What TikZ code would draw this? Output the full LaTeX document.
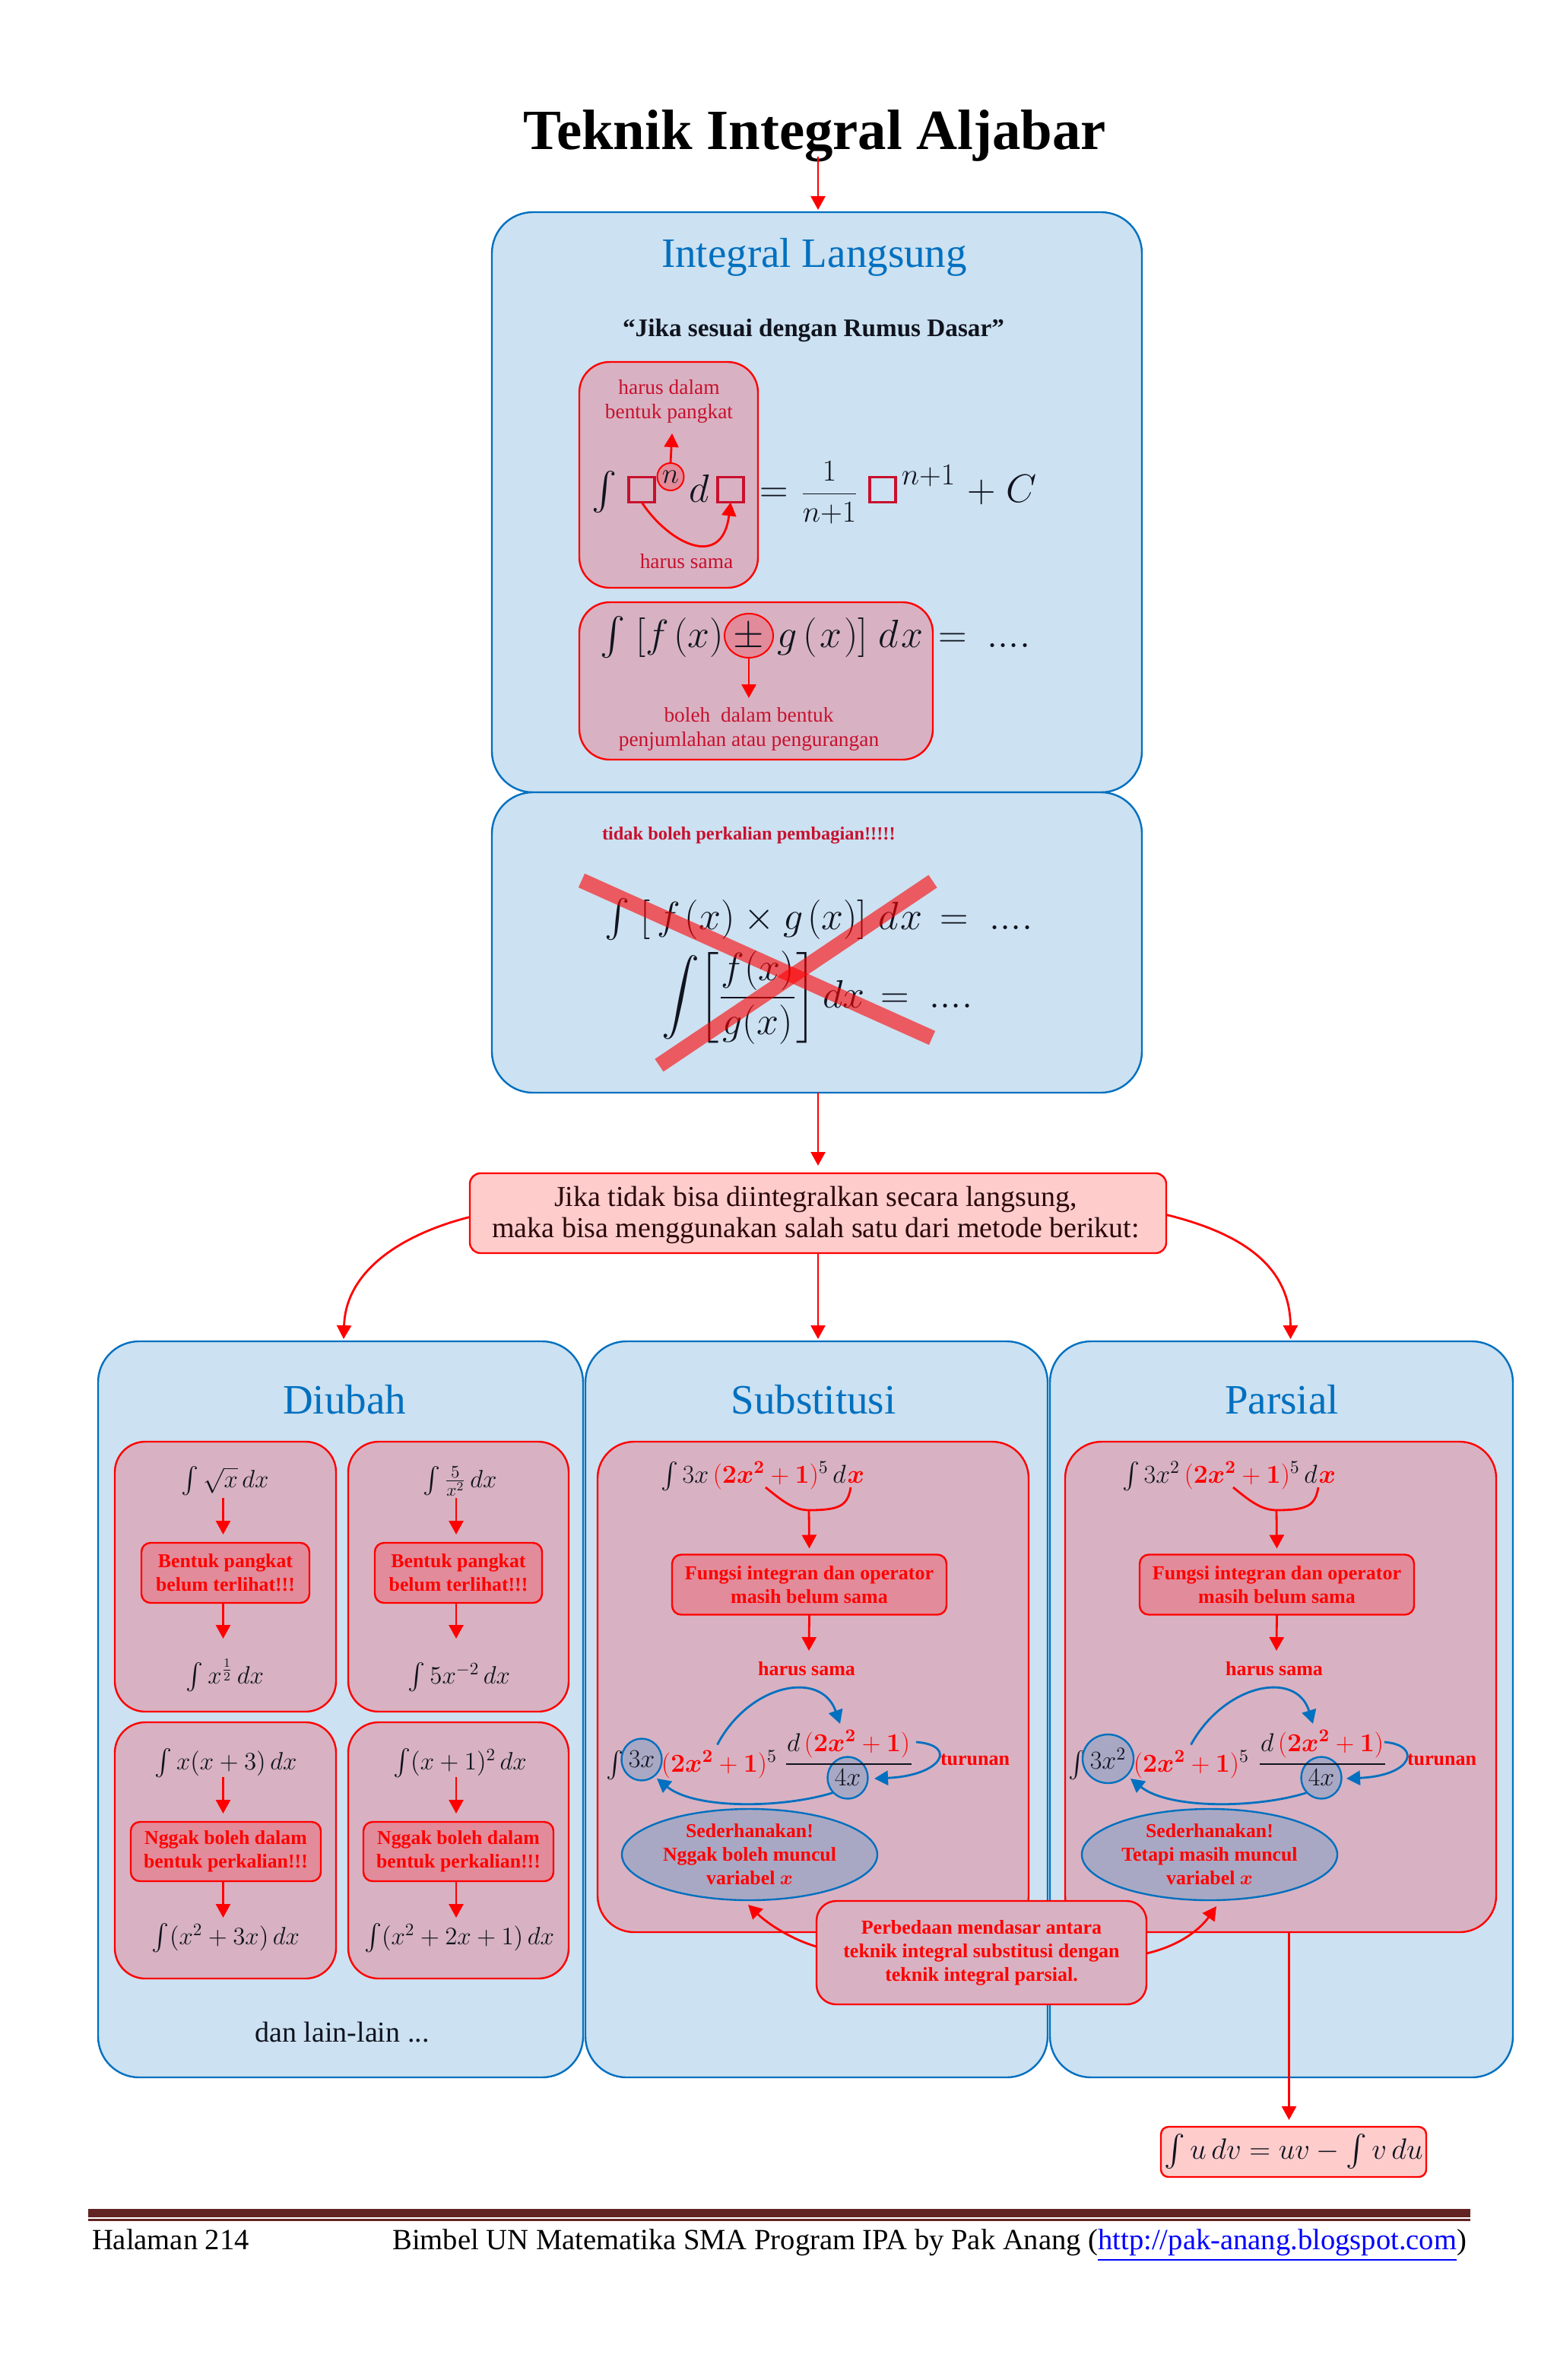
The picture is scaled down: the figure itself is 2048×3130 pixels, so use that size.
\documentclass[tikz,border=0pt]{standalone}
\usepackage{fix-cm}
\usepackage{exscale}
\usepackage{amsmath,bm}
\usepackage[no-math]{fontspec}
\setmainfont{Liberation Serif}
\usetikzlibrary{arrows.meta,positioning,calc,shapes.geometric}

\definecolor{panelline}{HTML}{0070C0}
\definecolor{panelfill}{HTML}{CCE1F1}
\definecolor{hintfill}{HTML}{D8B2C2}
\definecolor{notefill}{HTML}{E28B9A}
\definecolor{softred}{HTML}{C8102E}
\definecolor{pinkfill}{HTML}{FFCCCC}
\definecolor{circfill}{HTML}{A9A8C4}
\definecolor{inkdark}{HTML}{10141F}
\definecolor{inkred}{HTML}{2B0A0A}
\definecolor{rulebrown}{HTML}{622423}

\newcommand{\fz}[2]{\fontsize{#1}{#2}\selectfont}
\newcommand{\redexpr}{{\color{red}(\bm{2x^2}+\bm{1})}}

\begin{document}
\begin{tikzpicture}[x=0.5pt,y=-0.5pt,>={Triangle[length=9pt,width=9.5pt]}]

\tikzset{every node/.style = {inner sep=0pt,outer sep=0pt,text=inkdark}}
\tikzset{every edge/.append style = {red,line width=1.4pt}}
\tikzset{wh/.style 2 args = {minimum width=#1*0.5pt,minimum height=#2*0.5pt}}
\tikzset{panel/.style = {draw=panelline,fill=panelfill,line width=1.2pt,rounded corners=27pt}}
\tikzset{hint/.style = {draw=red,fill=hintfill,line width=1.2pt,rounded corners=20pt}}
\tikzset{note/.style = {draw=red,fill=notefill,line width=1.2pt,rounded corners=6pt,align=center,text=red,font=\fz{12.9}{15.5}\bfseries}}
\tikzset{heading/.style = {anchor=base,text=panelline,font=\fz{27.5}{30}}}
\tikzset{bigmath/.style = {anchor=base,font=\fz{26}{30}}}
\tikzset{rumus/.style = {anchor=base,font=\fz{16.5}{20}}}
\tikzset{rumusb/.style = {anchor=base,font=\fz{17}{20}}}
\tikzset{softtext/.style = {align=center,text=softred,font=\fz{13.7}{16}}}
\tikzset{boldred/.style = {align=center,text=red,font=\fz{13}{15.5}\bfseries}}
\tikzset{kotak/.style = {draw=softred,line width=1.8pt,wh={34}{33}}}
\tikzset{bulat/.style = {ellipse,draw=red,fill=notefill,line width=1pt}}
\tikzset{biru/.style = {ellipse,draw=panelline,fill=circfill,line width=1.2pt}}
\tikzset{alur/.style = {draw=red,line width=1.4pt}}
\tikzset{alurbiru/.style = {draw=panelline,line width=1.4pt}}
\tikzset{silang/.style = {draw=red,opacity=0.6,line width=10pt}}

\useasboundingbox (0,0) rectangle (2048,3130);

\node[anchor=base,text=black,font=\fz{37.4}{40}\bfseries] (title) at (1072,197) {Teknik Integral Aljabar};

\node[panel,wh={855}{763}] (langsung) at (1074.5,660.5) {};
\node[panel,wh={855}{395}] (larangan) at (1074.5,1239.5) {};
\node[heading] (langsung_t) at (1071,351) {Integral Langsung};
\node[anchor=base,font=\fz{16.6}{20}\bfseries] (syarat) at (1070,442) {``Jika sesuai dengan Rumus Dasar''};

\node[hint,wh={235}{297}] (rumus1) at (879.5,624.5) {};
\node[hint,wh={465}{207}] (rumus2) at (994.5,895.5) {};

\node[softtext] (pangkat)  at (880,528)  {harus dalam\\bentuk pangkat};
\node[softtext,anchor=base] (sama) at (903,747) {harus sama};
\node[bigmath] (int1)      at (795,660)  {$\int$};
\node[kotak]   (sq1)       at (844,644)  {};
\node[bulat,wh={35}{36},font=\fz{19}{20}] (pn) at (882,627) {$n$};
\node[bigmath] (d1)        at (920,660)  {$d$};
\node[kotak]   (sq2)       at (961,644)  {};
\node[bigmath] (eq1)       at (1018,660) {$=$};
\node[font=\fz{20}{24}]    (frac1) at (1091,648) {$\dfrac{1}{n{+}1}$};
\node[kotak]   (sq3)       at (1161,644) {};
\node[font=\fz{20}{24}]    (pow1)  at (1221,626) {$n{+}1$};
\node[bigmath] (plusc)     at (1318,660) {$+\ C$};

\draw (pn.north) edge[->] ($(pn.north)+(2,-39)$);
\draw[alur,->] (sq1.south) .. controls (880,715) and (950,750) .. (sq2.south);

\node[bulat,wh={64}{58}] (pm) at (985,836) {};
\node[bigmath,anchor=base east] (f2a) at (952,851)  {$\int\;[f\mkern2mu(x)$};
\node[bigmath] (pm_t) at (985,851) {$\pm$};
\node[bigmath,anchor=base west] (f2b) at (1022,851) {$g\mkern3mu(\mkern1mu x\mkern1mu)]\mkern5mu d\mkern1mu x$};
\node[bigmath] (eq2)  at (1253,851) {$=$};
\node[bigmath] (dots2) at (1327,851) {$....$};
\node[softtext] (boleh) at (985,959) {boleh\ \ dalam bentuk\\penjumlahan atau pengurangan};
\draw (pm.south) edge[->] ($(pm.south)+(0,53)$);

\node[anchor=base west,text=softred,font=\fz{12.2}{14}\bfseries] (tidak) at (792,1104) {tidak boleh perkalian pembagian!!!!!};
\node[bigmath,anchor=base west] (kali) at (795,1222) {$\int\;[\,f\mkern2mu(x)\times g\mkern2mu(x)]\;d\mkern1mu x$};
\node[bigmath] (eq3)   at (1255,1222) {$=$};
\node[bigmath] (dots3) at (1330,1222) {$....$};
\node[bigmath,anchor=base west] (bagi) at (870,1325) {$\displaystyle\int\!\left[\frac{f(x)}{g(x)}\right]dx$};
\node[bigmath] (eq4)   at (1177,1325) {$=$};
\node[bigmath] (dots4) at (1251,1325) {$....$};
\draw[silang] (765,1158) -- (1226,1365);
\draw[silang] (1227,1159) -- (867,1401);

\node[draw=red,fill=pinkfill,line width=1.2pt,rounded corners=7pt,wh={916}{105}] (jika) at (1076,1595.5) {};
\node[align=center,text=inkred,font=\fz{19}{20.75}] (jika_t) at (1073,1598)
  {Jika tidak bisa diintegralkan secara langsung,\\maka bisa menggunakan salah satu dari metode berikut:};

\node[panel,wh={638}{968}] (diubah)     at (448,2248)    {};
\node[panel,wh={608}{968}] (substitusi) at (1074,2248)   {};
\node[panel,wh={609}{968}] (parsial)    at (1685.5,2248) {};

\draw ($(title.base)+(4,9)$)        edge[->] ($(langsung.north)+(1.5,-3)$);
\draw ($(larangan.south)+(1.5,0)$)  edge[->] ($(jika.north)+(0,-10)$);
\draw (jika.south)                  edge[->] ($(substitusi.north)+(2,-3)$);
\draw[alur,->] ($(jika.west)+(0,5)$)  .. controls (540,1620) and (455,1665) .. ($(diubah.north)+(4,-3)$);
\draw[alur,->] ($(jika.east)+(0,2)$)  .. controls (1625,1620) and (1697,1660) .. ($(parsial.north)+(12,-3)$);

\node[heading] (diubah_t) at (453,1859)  {Diubah};
\node[heading] (subs_t)   at (1070,1859) {Substitusi};
\node[heading] (pars_t)   at (1686,1859) {Parsial};

\node[hint,wh={291}{355}] (ra) at (296.5,2073.5) {};
\node[hint,wh={290}{355}] (rb) at (603,2073.5)   {};
\node[hint,wh={291}{337}] (rc) at (296.5,2433.5) {};
\node[hint,wh={290}{337}] (rd) at (603,2433.5)   {};

\node[rumus] (fa1) at (296,1956) {$\int\sqrt{x}\,dx$};
\node[rumus] (fa2) at (296,2214) {$\int x^{\frac{1}{2}}\,dx$};
\node[rumus] (fb1) at (605,1956) {$\int\frac{5}{x^2}\,dx$};
\node[rumus] (fb2) at (604,2214) {$\int 5x^{-2}\,dx$};
\node[rumus] (fc1) at (297,2327) {$\int x(x+3)\,dx$};
\node[rumus] (fc2) at (297,2557) {$\int (x^2+3x)\,dx$};
\node[rumus] (fd1) at (605,2327) {$\int (x+1)^2\,dx$};
\node[rumus] (fd2) at (604,2557) {$\int (x^2+2x+1)\,dx$};

\node[note,wh={221}{79}] (ia) at (296.5,2068.5) {Bentuk pangkat\\belum terlihat!!!};
\node[note,wh={220}{79}] (ib) at (603,2068.5)   {Bentuk pangkat\\belum terlihat!!!};
\node[note,wh={250}{78}] (ic) at (297,2435)     {Nggak boleh dalam\\bentuk perkalian!!!};
\node[note,wh={250}{78}] (id) at (603,2435)     {Nggak boleh dalam\\bentuk perkalian!!!};

\draw ($(fa1.base)+(-2.5,14)$) edge[->] ($(ia.north)+(-3,-11)$);
\draw ($(ia.south)+(-3,0)$)    edge[->] ($(fa2.base)+(-2.5,-59)$);
\draw ($(fb1.base)+(-5,14)$)   edge[->] ($(ib.north)+(-3,-11)$);
\draw ($(ib.south)+(-3,0)$)    edge[->] ($(fb2.base)+(-4,-59)$);
\draw ($(fc1.base)+(-3.5,10)$) edge[->] ($(ic.north)+(-3.5,-11)$);
\draw ($(ic.south)+(-3.5,0)$)  edge[->] ($(fc2.base)+(-3.5,-35)$);
\draw ($(fd1.base)+(-5,10)$)   edge[->] ($(id.north)+(-3,-11)$);
\draw ($(id.south)+(-3,0)$)    edge[->] ($(fd2.base)+(-4,-35)$);

\node[anchor=base,font=\fz{19}{22}] (lain) at (450,2685) {dan lain-lain ...};

\node[hint,rounded corners=24pt,wh={567}{645}] (sub_in) at (1069.5,2218.5) {};
\node[hint,rounded corners=24pt,wh={567}{645}] (par_in) at (1684.5,2218.5) {};

\node[rumusb,anchor=base west] (sub_f) at (869,1950)  {$\int 3x\,\redexpr^5\,d\mkern1mu{\color{red}\bm{x}}$};
\node[rumusb,anchor=base west] (par_f) at (1476,1950) {$\int 3x^2\,\redexpr^5\,d\mkern1mu{\color{red}\bm{x}}$};

\coordinate (sub_k) at (1007,1956);
\coordinate (sub_m) at (1064,1986);
\coordinate (sub_l) at (1119,1956);
\coordinate (par_k) at (1622,1956);
\coordinate (par_m) at (1679,1986);
\coordinate (par_l) at (1734,1956);
\draw[alur] (sub_k) .. controls (1030,1975) and (1045,1986) .. (sub_m) .. controls (1105,1986) and (1115,1980) .. (sub_l);
\draw[alur] (par_k) .. controls (1645,1975) and (1660,1986) .. (par_m) .. controls (1720,1986) and (1730,1980) .. (par_l);

\node[note,wh={361}{79},font=\fz{13}{15.5}\bfseries] (sub_note) at (1064.5,2084) {Fungsi integran dan operator\\masih belum sama};
\node[note,wh={361}{79},font=\fz{13}{15.5}\bfseries] (par_note) at (1679.5,2084) {Fungsi integran dan operator\\masih belum sama};
\node[boldred,anchor=base] (sub_sama) at (1061,2203) {harus sama};
\node[boldred,anchor=base] (par_sama) at (1676,2203) {harus sama};

\draw (sub_m)                 edge[->] ($(sub_note.north)+(0,-8)$);
\draw (sub_note.south)        edge[->] ($(sub_sama.base)+(3,-32)$);
\draw (par_m)                 edge[->] ($(par_note.north)+(0,-8)$);
\draw (par_note.south)        edge[->] ($(par_sama.base)+(3,-32)$);

\node[rumusb] (sub_int) at (809,2330) {$\int$};
\node[biru,wh={53}{55},font=\fz{17}{20}] (sub_3x) at (844,2314) {$3x$};
\node[rumusb,anchor=base west] (sub_ex) at (870,2330) {$\redexpr^5$};
\node[rumusb] (sub_d) at (1116,2303) {$d\,\redexpr$};
\node[biru,wh={53}{55},font=\fz{17}{20}] (sub_4x) at (1115,2338) {$4x$};
\draw[line width=0.8pt,draw=inkdark] ($(sub_d.base west)+(-1,17)$) -- ($(sub_d.base east)+(2,17)$);
\node[boldred,anchor=base west] (sub_tur) at (1237,2321) {turunan};

\node[rumusb] (par_int) at (1417,2330) {$\int$};
\node[biru,wh={66}{64},font=\fz{17}{20}] (par_3x) at (1457.5,2313) {$3x^2$};
\node[rumusb,anchor=base west] (par_ex) at (1491,2330) {$\redexpr^5$};
\node[rumusb] (par_d) at (1739,2303) {$d\,\redexpr$};
\node[biru,wh={53}{55},font=\fz{17}{20}] (par_4x) at (1738,2338) {$4x$};
\draw[line width=0.8pt,draw=inkdark] ($(par_d.base west)+(-1,17)$) -- ($(par_d.base east)+(2,17)$);
\node[boldred,anchor=base west] (par_tur) at (1851,2321) {turunan};

\coordinate (sub_a) at (943.5,2294.5);
\coordinate (sub_b) at (1205,2291);
\coordinate (sub_c) at (1150,2339);
\coordinate (sub_e) at (864,2339);
\coordinate (par_a) at (1566.5,2294.5);
\coordinate (par_b) at (1821,2291);
\coordinate (par_c) at (1771,2339);
\coordinate (par_e) at (1487,2339);

\draw[alurbiru,->] (sub_a) .. controls (985,2215) and (1080,2195) .. ($(sub_d.base)+(-11,-36)$);
\draw[alurbiru,->] (sub_b) .. controls (1260,2295) and (1240,2335) .. (sub_c);
\draw[alurbiru,->] (sub_4x.south west) .. controls (1030,2378) and (915,2380) .. (sub_e);
\draw[alurbiru,->] (par_a) .. controls (1610,2215) and (1705,2195) .. ($(par_d.base)+(-12,-36)$);
\draw[alurbiru,->] (par_b) .. controls (1870,2295) and (1860,2335) .. (par_c);
\draw[alurbiru,->] (par_4x.south west) .. controls (1655,2378) and (1538,2380) .. (par_e);

\node[biru,wh={336}{120},align=center,text=red,font=\fz{12.9}{15.5}\bfseries] (sub_el) at (986,2439)
  {Sederhanakan!\\Nggak boleh muncul\\variabel $\bm{x}$};
\node[biru,wh={336}{120},align=center,text=red,font=\fz{12.9}{15.5}\bfseries] (par_el) at (1591,2439)
  {Sederhanakan!\\Tetapi masih muncul\\variabel $\bm{x}$};

\node[hint,rounded corners=13pt,wh={434}{136},align=center,text=red,font=\fz{13}{15.5}\bfseries] (beda) at (1291,2568)
  {Perbedaan mendasar antara\\teknik integral substitusi dengan\\teknik integral parsial.};

\draw[alur,->] ($(beda.west)+(0,-8)$) .. controls (1040,2550) and (1010,2530) .. ($(sub_el.south)+(-2,6)$);
\draw[alur,->] ($(beda.east)+(0,1)$)  .. controls (1555,2558) and (1580,2535) .. ($(par_el.south)+(9,8)$);

\node[draw=red,fill=pinkfill,line width=1.2pt,rounded corners=5pt,wh={349}{66},font=\fz{19.3}{22}] (uv) at (1701.5,2830) {$\int u\,dv=uv-\int v\,du$};
\draw ($(par_in.south)+(11,0)$) edge[->] ($(uv.north)+(-6,-9)$);

\fill[rulebrown] (116,2905) rectangle (1934,2915.5);
\fill[rulebrown] (116,2918) rectangle (1934,2920.5);

\node[anchor=base west,text=black,font=\fz{19.3}{22}] (halaman) at (121,2958) {Halaman 214};
\node[anchor=base east,text=black,font=\fz{19.3}{22}] (bimbel) at (1929,2958)
  {Bimbel UN Matematika SMA Program IPA by Pak Anang ({\color{blue}\underline{http://pak-anang.blogspot.com}})};

\end{tikzpicture}
\end{document}
